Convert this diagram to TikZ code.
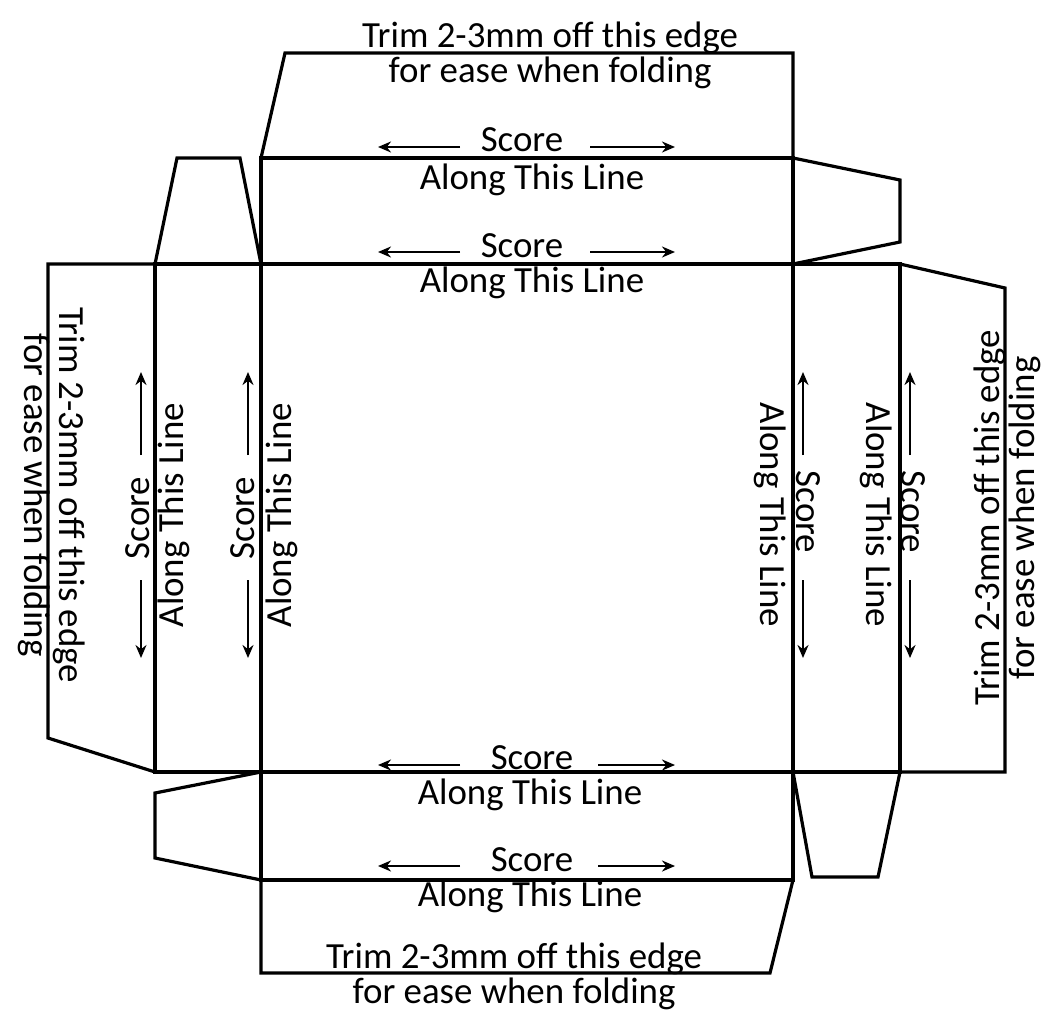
\documentclass[tikz,border=0pt]{standalone}
\usepackage{fontspec}
\setmainfont{Carlito}
\usetikzlibrary{arrows.meta}
\begin{document}
\begin{tikzpicture}[x=1bp,y=-1bp,
  edge/.style={line width=3.2bp,line join=miter},
  lbl/.style={font=\fontsize{37}{35}\selectfont,inner sep=0pt},
  arr/.style={line width=2.6bp,-{Stealth[length=13bp,width=11bp]}}]
\useasboundingbox (0,0) rectangle (1053,1024);
% main and panels
\draw[edge] (261,264) rectangle (793,772);
\draw[edge] (261,158) rectangle (793,264);
\draw[edge] (261,158) -- (285,53) -- (793,53) -- (793,158);
\draw[edge] (793,158) -- (900,180) -- (900,242) -- (793,264);
\draw[edge] (155,264) -- (177,158) -- (240,158) -- (261,264);
\draw[edge] (155,264) rectangle (261,772);
\draw[edge] (155,264) -- (48,264) -- (48,738) -- (155,772);
\draw[edge] (793,264) rectangle (900,772);
\draw[edge] (900,264) -- (1005,288) -- (1005,772) -- (900,772);
\draw[edge] (261,772) rectangle (793,880);
\draw[edge] (261,880) -- (261,973) -- (770,973) -- (793,880);
\draw[edge] (261,772) -- (155,793) -- (155,858) -- (261,880);
\draw[edge] (793,772) -- (812,877) -- (878,877) -- (900,772);
% top texts
\node[lbl,align=center] (tt) at (550,55) {Trim 2-3mm off this edge\\for ease when folding};
\node[lbl] (s1) at (522,140) {Score};
\node[lbl] (a1) at (532,180) {Along This Line};
\coordinate (s1l) at (460,147); \coordinate (s1le) at (378,147);
\coordinate (s1r) at (590,147); \coordinate (s1re) at (675,147);
\draw[arr] (s1l) -- (s1le); \draw[arr] (s1r) -- (s1re);
\node[lbl] (s2) at (522,246) {Score};
\node[lbl] (a2) at (532,283) {Along This Line};
\coordinate (s2l) at (460,252); \coordinate (s2le) at (378,252);
\coordinate (s2r) at (590,252); \coordinate (s2re) at (675,252);
\draw[arr] (s2l) -- (s2le); \draw[arr] (s2r) -- (s2re);
% bottom texts
\node[lbl] (s3) at (532,758) {Score};
\node[lbl] (a3) at (530,795) {Along This Line};
\coordinate (s3l) at (460,765); \coordinate (s3le) at (378,765);
\coordinate (s3r) at (598,765); \coordinate (s3re) at (675,765);
\draw[arr] (s3l) -- (s3le); \draw[arr] (s3r) -- (s3re);
\node[lbl] (s4) at (532,860) {Score};
\node[lbl] (a4) at (530,897) {Along This Line};
\coordinate (s4l) at (460,866); \coordinate (s4le) at (378,866);
\coordinate (s4r) at (598,866); \coordinate (s4re) at (675,866);
\draw[arr] (s4l) -- (s4le); \draw[arr] (s4r) -- (s4re);
\node[lbl,align=center] (bt) at (514,976) {Trim 2-3mm off this edge\\for ease when folding};
% left texts
\node[lbl,align=center,rotate=-90] (lt) at (52,495) {Trim 2-3mm off this edge\\for ease when folding};
\node[lbl,rotate=90] (s5) at (138,518) {Score};
\node[lbl,rotate=90] (a5) at (174,515) {Along This Line};
\coordinate (s5u) at (141,455); \coordinate (s5ue) at (141,372);
\coordinate (s5d) at (141,580); \coordinate (s5de) at (141,658);
\draw[arr] (s5u) -- (s5ue); \draw[arr] (s5d) -- (s5de);
\node[lbl,rotate=90] (s6) at (243,518) {Score};
\node[lbl,rotate=90] (a6) at (282,515) {Along This Line};
\coordinate (s6u) at (248,455); \coordinate (s6ue) at (248,372);
\coordinate (s6d) at (248,580); \coordinate (s6de) at (248,658);
\draw[arr] (s6u) -- (s6ue); \draw[arr] (s6d) -- (s6de);
% right texts
\node[lbl,rotate=-90] (a7) at (770,515) {Along This Line};
\node[lbl,rotate=-90] (s7) at (808,512) {Score};
\coordinate (s7u) at (803,455); \coordinate (s7ue) at (803,372);
\coordinate (s7d) at (803,580); \coordinate (s7de) at (803,658);
\draw[arr] (s7u) -- (s7ue); \draw[arr] (s7d) -- (s7de);
\node[lbl,rotate=-90] (a8) at (876,515) {Along This Line};
\node[lbl,rotate=-90] (s8) at (913,512) {Score};
\coordinate (s8u) at (910,455); \coordinate (s8ue) at (910,372);
\coordinate (s8d) at (910,580); \coordinate (s8de) at (910,658);
\draw[arr] (s8u) -- (s8ue); \draw[arr] (s8d) -- (s8de);
\node[lbl,align=center,rotate=90] (rt) at (1007,518) {Trim 2-3mm off this edge\\for ease when folding};
\end{tikzpicture}
\end{document}
